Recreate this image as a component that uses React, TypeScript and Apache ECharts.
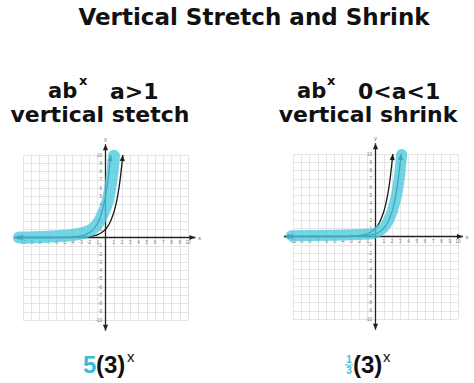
import React, { useEffect, useRef } from "react";
import * as echarts from "echarts";

// y = 5·3^x  (stretch, left graph)
const stretchX = [-10.6, -7, -5, -4, -3, -2.5, -2, -1.5, -1, -0.75, -0.5, -0.25, 0, 0.15, 0.3, 0.45, 0.63];
const stretchY = [0, 0, 0.02, 0.06, 0.19, 0.32, 0.56, 0.96, 1.67, 2.19, 2.89, 3.8, 5, 5.9, 6.9, 8.2, 10];
// y = 3^x  (parent, both graphs)
const parentX = [-10.6, -6, -4, -3, -2, -1.5, -1, -0.5, 0, 0.5, 1, 1.25, 1.5, 1.75, 2, 2.1];
const parentY = [0, 0, 0.01, 0.04, 0.11, 0.19, 0.33, 0.58, 1, 1.73, 3, 3.95, 5.2, 6.84, 9, 10];
// y = (1/3)·3^x  (shrink, right graph)
const shrinkX = [-10.6, -6, -4, -2, -1, 0, 0.5, 1, 1.5, 2, 2.25, 2.5, 2.75, 3, 3.1];
const shrinkY = [0, 0, 0, 0.04, 0.11, 0.33, 0.58, 1, 1.73, 3, 3.95, 5.2, 6.84, 9, 10];
// hand-drawn highlighter strokes
const hiLeftX = [-10.5, -7, -4, -2.5, -1.5, -0.8, -0.3, 0.15, 0.45, 0.65, 0.85, 0.98, 1.02];
const hiLeftY = [0, 0.1, 0.3, 0.6, 1.1, 1.9, 2.9, 4, 5.3, 6.5, 8, 9.3, 9.9];
const hiRightX = [-10.2, -6, -3, -1, 0, 1, 1.6, 2.1, 2.5, 2.8, 3.0, 3.12, 3.18];
const hiRightY = [0.1, 0.15, 0.2, 0.3, 0.45, 1.1, 2, 3.3, 4.8, 6.5, 8.2, 9.4, 9.95];

// tick labels on both axes
const tickLabels = [-10, -9, -8, -7, -6, -5, -4, -3, -2, -1, 1, 2, 3, 4, 5, 6, 7, 8, 9, 10];

const axisMin = -10;
const axisMax = 10;
const axisStep = 1;

const pts = (xs: number[], ys: number[]) => xs.map((x, i) => [x, ys[i]]);

function arrow(tip: number[], from: number[], len = 6, half = 2.6, color = "#111") {
  const dx = tip[0] - from[0];
  const dy = tip[1] - from[1];
  const d = Math.hypot(dx, dy) || 1;
  const ux = dx / d, uy = dy / d;
  const bx = tip[0] - ux * len, by = tip[1] - uy * len;
  return {
    type: "polygon",
    shape: { points: [tip, [bx - uy * half, by + ux * half], [bx + uy * half, by - ux * half]] },
    style: { fill: color },
  };
}

function makeRender(curves: number[][][], highlight: number[][], hiWidth: number, xEnd: number) {
  return (_params: any, api: any) => {
    const c = (p: number[]) => api.coord(p);
    const children: any[] = [];
    // tick labels
    tickLabels.forEach((v) => {
      const px = c([v, 0]);
      children.push({
        type: "text",
        x: px[0],
        y: px[1] + 5,
        style: { text: String(v), fontSize: 4.5, fill: "#777", align: "center", verticalAlign: "middle", fontFamily: "Arial, sans-serif" },
      });
      const py = c([0, v]);
      children.push({
        type: "text",
        x: py[0] - 3.5,
        y: py[1],
        style: { text: String(v), fontSize: 4.5, fill: "#777", align: "right", verticalAlign: "middle", fontFamily: "Arial, sans-serif" },
      });
    });
    // axes with arrows
    const xa = c([-11.1, 0]), xb = c([xEnd, 0]);
    const ya = c([0, -11.3]), yb = c([0, 11.3]);
    children.push({ type: "line", shape: { x1: xa[0], y1: xa[1], x2: xb[0], y2: xb[1] }, style: { stroke: "#222", lineWidth: 1.3 } });
    children.push({ type: "line", shape: { x1: ya[0], y1: ya[1], x2: yb[0], y2: yb[1] }, style: { stroke: "#222", lineWidth: 1.3 } });
    children.push(arrow(xa, xb, 6, 2.6, "#222"));
    children.push(arrow(xb, xa, 6, 2.6, "#222"));
    children.push(arrow(ya, yb, 6, 2.6, "#222"));
    children.push(arrow(yb, ya, 6, 2.6, "#222"));
    children.push({ type: "text", x: xb[0] + 4, y: xb[1], style: { text: "x", fontSize: 6, fill: "#666", align: "center", verticalAlign: "middle" } });
    children.push({ type: "text", x: yb[0], y: yb[1] - 2, style: { text: "y", fontSize: 6, fill: "#666", align: "center", verticalAlign: "bottom" } });
    // curves
    curves.forEach((cv) => {
      const p = cv.map(c);
      children.push({ type: "polyline", shape: { points: p, smooth: 0.3 }, style: { stroke: "#1a1a1a", lineWidth: 1.3, fill: null } });
      children.push(arrow(p[p.length - 1], p[p.length - 2], 6, 2.6, "#1a1a1a"));
      children.push(arrow([p[0][0] - 1, p[0][1]], [p[0][0] + 10, p[0][1]], 6, 2.6, "#1a1a1a"));
    });
    // highlighter
    children.push({
      type: "polyline",
      shape: { points: highlight.map(c), smooth: 0.4 },
      style: { stroke: "#4ecbe0", lineWidth: hiWidth, lineCap: "round", lineJoin: "round", fill: null, opacity: 0.8 },
    });
    return { type: "group", children };
  };
}

function axisPair(i: number) {
  const common = {
    gridIndex: i,
    type: "value",
    min: axisMin,
    max: axisMax,
    interval: axisStep,
    axisLine: { show: false },
    axisTick: { show: false },
    axisLabel: { show: false },
    splitLine: { show: true, lineStyle: { color: "#e4e4e4", width: 1 } },
  };
  return { x: { ...common }, y: { ...common } };
}

export default function App() {
  const ref = useRef<HTMLDivElement>(null);
  useEffect(() => {
    if (!ref.current) return;
    const chart = echarts.init(ref.current, null, { renderer: "svg" });
    const a0 = axisPair(0), a1 = axisPair(1);
    const titleFont = "'Comic Sans MS', 'DejaVu Sans', sans-serif";
    const mathFont = "'Liberation Sans', Arial, sans-serif";
    const txt = (text: string, x: number, y: number, opts: any = {}) => ({
      type: "text",
      x,
      y,
      silent: true,
      style: {
        text,
        fontFamily: titleFont,
        fontSize: 22,
        fontWeight: "bold",
        fill: "#111",
        align: "left",
        verticalAlign: "middle",
        ...opts,
      },
    });
    chart.setOption({
      animation: false,
      backgroundColor: "#ffffff",
      grid: [
        { left: 23, top: 155, width: 165, height: 165 },
        { left: 293, top: 154, width: 165, height: 165 },
      ],
      xAxis: [a0.x, a1.x],
      yAxis: [a0.y, a1.y],
      series: [
        {
          type: "custom",
          xAxisIndex: 0,
          yAxisIndex: 0,
          data: [[0, 0]],
          silent: true,
          z: 5,
          renderItem: makeRender([pts(stretchX, stretchY), pts(parentX, parentY)], pts(hiLeftX, hiLeftY), 12, 10.9),
        },
        {
          type: "custom",
          xAxisIndex: 1,
          yAxisIndex: 1,
          data: [[0, 0]],
          silent: true,
          z: 5,
          renderItem: makeRender([pts(shrinkX, shrinkY), pts(parentX, parentY)], pts(hiRightX, hiRightY), 11, 10.6),
        },
      ],
      graphic: [
        txt("Vertical Stretch and Shrink", 254, 17, { align: "center", fontSize: 23 }),
        txt("ab", 48, 91, { fontSize: 21 }),
        txt("x", 79, 80, { fontSize: 13 }),
        txt("a>1", 110, 91),
        txt("vertical stetch", 100, 114, { align: "center" }),
        txt("ab", 297, 91, { fontSize: 21 }),
        txt("x", 327, 80, { fontSize: 13 }),
        txt("0<a<1", 358, 91),
        txt("vertical shrink", 368, 114, { align: "center" }),
        txt("5", 83, 364, { fontFamily: mathFont, fontSize: 24, fill: "#3bbcd6" }),
        txt("(3)", 96, 364, { fontFamily: mathFont, fontSize: 24 }),
        txt("x", 127, 356, { fontFamily: mathFont, fontSize: 15, fontWeight: "normal" }),
        txt("1", 349, 359, { fontFamily: mathFont, fontSize: 10, fill: "#3bbcd6", align: "center" }),
        { type: "line", silent: true, shape: { x1: 345, y1: 365, x2: 353, y2: 365 }, style: { stroke: "#3bbcd6", lineWidth: 1 } },
        txt("3", 349, 370, { fontFamily: mathFont, fontSize: 10, fill: "#3bbcd6", align: "center" }),
        txt("(3)", 353, 364, { fontFamily: mathFont, fontSize: 24 }),
        txt("x", 383, 356, { fontFamily: mathFont, fontSize: 15, fontWeight: "normal" }),
      ],
    });
    return () => chart.dispose();
  }, []);
  return (
    <div
      ref={ref}
      style={{ position: "absolute", left: 0, top: 0, width: 474, height: 383, background: "#fff" }}
    />
  );
}
